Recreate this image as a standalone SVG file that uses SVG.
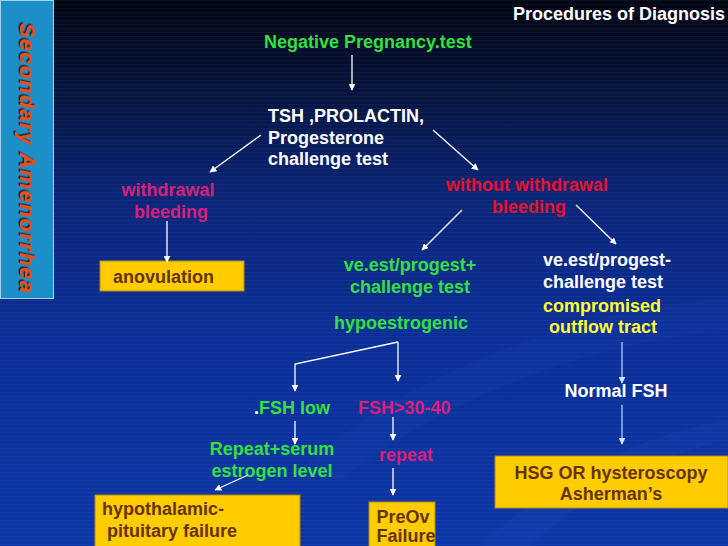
<svg xmlns="http://www.w3.org/2000/svg" width="728" height="546" viewBox="0 0 728 546">
<defs>
<linearGradient id="bg" x1="0" y1="0" x2="0" y2="1">
<stop offset="0" stop-color="#020614"/>
<stop offset="0.15" stop-color="#051238"/>
<stop offset="0.35" stop-color="#0a2476"/>
<stop offset="0.6" stop-color="#0b2e96"/>
<stop offset="1" stop-color="#0c36a6"/>
</linearGradient>
<pattern id="stripes" width="8" height="4" patternUnits="userSpaceOnUse">
<rect x="0" y="0" width="8" height="1" fill="#ffffff" opacity="0.04"/>
</pattern>
<filter id="shadow" x="-20%" y="-20%" width="140%" height="140%">
<feDropShadow dx="-1.5" dy="1.5" stdDeviation="0.6" flood-color="#1a1a1a" flood-opacity="0.9"/>
</filter>
<marker id="ah" viewBox="0 0 10 10" refX="9" refY="5" markerWidth="7" markerHeight="7" markerUnits="userSpaceOnUse" orient="auto">
<path d="M0,0 L10,5 L0,10 z" fill="#ffffff"/>
</marker>
<marker id="ahb" viewBox="0 0 10 10" refX="9" refY="5" markerWidth="7" markerHeight="7" markerUnits="userSpaceOnUse" orient="auto">
<path d="M0,0 L10,5 L0,10 z" fill="#d8e4ff"/>
</marker>
<style>
text{font-family:"Liberation Sans",Arial,sans-serif;font-weight:bold;font-size:18px}
.w{fill:#ffffff}
.g{fill:#33e040}
.m{fill:#d8207a}
.r{fill:#e8122c}
.y{fill:#ffff33}
.b{fill:#663300}
.box{fill:#ffcc00;stroke:#b08a10;stroke-width:1}
.c{stroke:#ffffff;stroke-width:1.3;fill:none}
.cb{stroke:#9ab8f0;stroke-width:1.5;fill:none}
.mid{text-anchor:middle}
</style>
</defs>
<rect width="728" height="546" fill="url(#bg)"/>
<rect width="728" height="546" fill="url(#stripes)"/>
<path d="M300,470 C420,360 620,300 728,300 L728,330 C620,340 470,380 340,480 Z" fill="#2a55c8" opacity="0.12"/>
<path d="M480,546 C560,470 660,430 728,420 L728,440 C660,455 590,490 530,546 Z" fill="#2a55c8" opacity="0.15"/>

<g id="title-bar">
<rect x="0.5" y="0.5" width="53" height="298" fill="#1c8fc8" stroke="#a8d4ea" stroke-width="1"/>
<text transform="translate(20,23) rotate(90)" x="0" y="0" font-style="italic" style="font-size:22px;fill:#e8501e" textLength="270" lengthAdjust="spacing" filter="url(#shadow)">Secondary Amenorrhea</text>
</g>

<g id="heading"><text class="w" x="513" y="20">Procedures of Diagnosis</text></g>

<g id="neg-preg"><text class="g" x="264" y="48">Negative Pregnancy.test</text></g>

<g id="tsh">
<text class="w" x="268" y="122">TSH ,PROLACTIN,</text>
<text class="w" x="268" y="144">Progesterone</text>
<text class="w" x="268" y="165">challenge test</text>
</g>

<g id="withdrawal">
<text class="m mid" x="168" y="196">withdrawal</text>
<text class="m mid" x="171" y="218">bleeding</text>
</g>

<g id="without-withdrawal">
<text class="r mid" x="527" y="191">without withdrawal</text>
<text class="r mid" x="529" y="213">bleeding</text>
</g>

<g id="anovulation">
<rect class="box" x="100" y="261" width="144" height="30"/>
<text class="b" x="113" y="283">anovulation</text>
</g>

<g id="ve-plus">
<text class="g mid" x="410" y="271">ve.est/progest+</text>
<text class="g mid" x="410" y="293">challenge test</text>
</g>

<g id="hypoestrogenic"><text class="g" x="334" y="329">hypoestrogenic</text></g>

<g id="ve-minus">
<text class="w" x="543" y="266">ve.est/progest-</text>
<text class="w" x="543" y="288">challenge test</text>
</g>

<g id="compromised">
<text class="y" x="543" y="312">compromised</text>
<text class="y" x="549" y="333">outflow tract</text>
</g>

<g id="normal-fsh"><text class="w mid" x="616" y="397">Normal FSH</text></g>

<g id="fsh-low"><text x="254" y="414"><tspan class="w">.</tspan><tspan class="g">FSH low</tspan></text></g>

<g id="fsh-high"><text class="m" x="358" y="414">FSH&gt;30-40</text></g>

<g id="repeat-serum">
<text class="g mid" x="272" y="455">Repeat+serum</text>
<text class="g mid" x="272" y="477">estrogen level</text>
</g>

<g id="repeat"><text class="m mid" x="406" y="461">repeat</text></g>

<g id="hsg">
<rect class="box" x="495" y="456" width="233" height="52"/>
<text class="b mid" x="611" y="479">HSG OR hysteroscopy</text>
<text class="b mid" x="611" y="500">Asherman’s</text>
</g>

<g id="hypothalamic">
<rect class="box" x="95" y="495" width="205" height="55"/>
<text class="b" x="102" y="515">hypothalamic-</text>
<text class="b" x="107" y="537">pituitary failure</text>
</g>

<g id="preov">
<rect class="box" x="369" y="502" width="66" height="48"/>
<text class="b mid" x="403" y="523">PreOv</text>
<text class="b mid" x="406" y="542">Failure</text>
</g>

<g id="connectors">
<line class="c" x1="352" y1="55" x2="352" y2="90" marker-end="url(#ah)"/>
<line class="c" x1="261" y1="135" x2="210" y2="172" marker-end="url(#ah)"/>
<line class="c" x1="433" y1="130" x2="478" y2="170" marker-end="url(#ah)"/>
<line class="c" x1="167" y1="221" x2="167" y2="262" marker-end="url(#ah)"/>
<line class="c" x1="462" y1="210" x2="422" y2="250" marker-end="url(#ah)"/>
<line class="c" x1="576" y1="205" x2="616" y2="244" marker-end="url(#ah)"/>
<line class="cb" x1="622" y1="342" x2="622" y2="383" marker-end="url(#ahb)"/>
<line class="cb" x1="622" y1="405" x2="622" y2="444" marker-end="url(#ahb)"/>
<polyline class="c" points="398,342 295,364 295,391" marker-end="url(#ah)"/>
<line class="c" x1="398" y1="342" x2="398" y2="381" marker-end="url(#ah)"/>
<line class="c" x1="295" y1="421" x2="295" y2="444" marker-end="url(#ah)"/>
<line class="c" x1="248" y1="475" x2="215" y2="490" marker-end="url(#ah)"/>
<line class="c" x1="393" y1="417" x2="393" y2="440" marker-end="url(#ah)"/>
<line class="c" x1="393" y1="468" x2="393" y2="495" marker-end="url(#ah)"/>
</g>
</svg>
